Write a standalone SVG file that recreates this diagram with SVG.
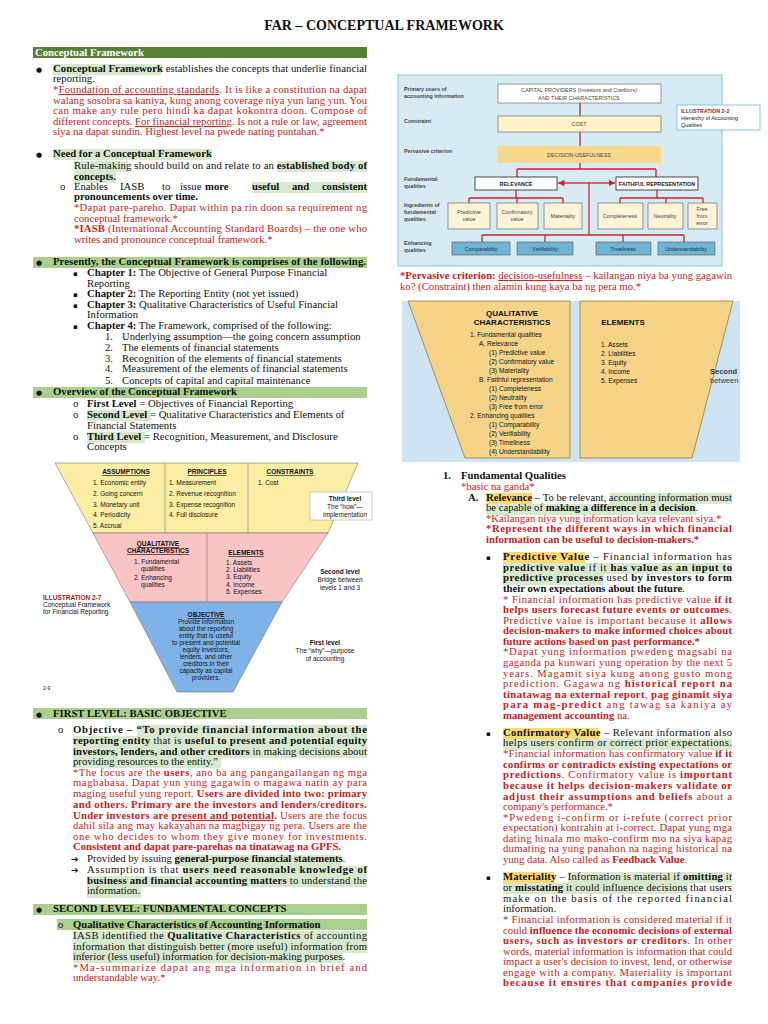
<svg xmlns="http://www.w3.org/2000/svg" width="768" height="1024" viewBox="0 0 768 1024">
<defs>
<style>
text{font-family:"Liberation Serif","Times New Roman",serif;font-size:10.7px;fill:#111}
.b{font-weight:bold}
.r{fill:#d01818}
.u{text-decoration:underline}
.s{font-family:"Liberation Sans",Arial,sans-serif;font-size:6.5px}
.h{font-family:"Liberation Sans",Arial,sans-serif;font-size:5.4px;fill:#444}
.hl{fill:#d6e9cd}
.yl{fill:#ffd970}
.bar{fill:#a9d08e}
.bul{font-family:"DejaVu Sans",sans-serif;font-size:7px}
.red{stroke:#d0202a;stroke-width:1.3;fill:none}
.box{stroke:#555;stroke-width:0.6}
</style>
<marker id="ar" viewBox="0 0 6 6" refX="6" refY="3" markerWidth="5" markerHeight="5" orient="auto-start-reverse"><path d="M0,0L6,3L0,6z" fill="#d0202a"/></marker>
</defs>
<rect width="768" height="1024" fill="#fff"/>
<text x="384" y="30" text-anchor="middle" class="b" style="font-size:14px">FAR – CONCEPTUAL FRAMEWORK</text>

<!-- LEFT COLUMN -->
<g id="left-top">
<rect x="33" y="47" width="334" height="11" fill="#538135"/>
<text x="35" y="56" class="b" style="fill:#fff">Conceptual Framework</text>
<rect class="hl" x="53" y="64" width="109" height="11"/>
<text x="36" y="72" class="bul">●</text>
<text x="53" y="72" textLength="314"><tspan class="b">Conceptual Framework</tspan> establishes the concepts that underlie financial</text>
<text x="53" y="82">reporting.</text>
<text x="53" y="93" class="r" textLength="314">*<tspan class="u">Foundation of accounting standards</tspan>. It is like a constitution na dapat</text>
<text x="53" y="104" class="r" textLength="314">walang sosobra sa kaniya, kung anong coverage niya yun lang yun. You</text>
<text x="53" y="114" class="r" textLength="314">can make any rule pero hindi ka dapat kokontra doon. Compose of</text>
<text x="53" y="125" class="r" textLength="314">different concepts. <tspan class="u">For financial reporting</tspan>. Is not a rule or law, agreement</text>
<text x="53" y="135" class="r">siya na dapat sundin. Highest level na pwede nating puntahan.*</text>

<rect class="hl" x="53" y="149" width="159" height="11"/>
<rect class="hl" x="74" y="161" width="54" height="11"/>
<rect class="hl" x="277" y="161" width="90" height="11"/>
<rect class="hl" x="74" y="172" width="42" height="11"/>
<rect class="hl" x="252" y="182" width="115" height="11"/>
<text x="36" y="157" class="bul">●</text>
<text x="53" y="157" class="b">Need for a Conceptual Framework</text>
<text x="74" y="169" textLength="293">Rule-making should build on and relate to an <tspan class="b">established body of</tspan></text>
<text x="74" y="180" class="b">concepts.</text>
<text x="60" y="190">o</text>
<text x="74" y="190">Enables</text><text x="120" y="190">IASB</text><text x="162" y="190">to</text><text x="180" y="190">issue</text>
<text x="205" y="190" class="b">more</text><text x="252" y="190" class="b">useful</text><text x="292" y="190" class="b">and</text><text x="367" y="190" class="b" text-anchor="end">consistent</text>
<text x="74" y="200" class="b">pronouncements over time.</text>
<text x="74" y="211" class="r" textLength="293">*Dapat pare-pareho. Dapat within pa rin doon sa requirement ng</text>
<text x="74" y="222" class="r">conceptual framework.*</text>
<text x="74" y="232" class="r" textLength="293"><tspan class="b">*IASB</tspan> (International Accounting Standard Boards) – the one who</text>
<text x="74" y="243" class="r">writes and pronounce conceptual framework.*</text>

<rect class="bar" x="33" y="257" width="334" height="11"/>
<text x="36" y="265" class="bul">●</text>
<text x="53" y="265" class="b" textLength="313">Presently, the Conceptual Framework is comprises of the following.</text>
<text x="73" y="276" class="bul">▪</text><text x="87" y="276"><tspan class="b">Chapter 1:</tspan> The Objective of General Purpose Financial</text>
<text x="87" y="287">Reporting</text>
<text x="73" y="297" class="bul">▪</text><text x="87" y="297"><tspan class="b">Chapter 2:</tspan> The Reporting Entity (not yet issued)</text>
<text x="73" y="308" class="bul">▪</text><text x="87" y="308"><tspan class="b">Chapter 3:</tspan> Qualitative Characteristics of Useful Financial</text>
<text x="87" y="318">Information</text>
<text x="73" y="329" class="bul">▪</text><text x="87" y="329"><tspan class="b">Chapter 4:</tspan> The Framework, comprised of the following:</text>
<text x="105" y="340">1.</text><text x="122" y="340">Underlying assumption—the going concern assumption</text>
<text x="105" y="351">2.</text><text x="122" y="351">The elements of financial statements</text>
<text x="105" y="362">3.</text><text x="122" y="362">Recognition of the elements of financial statements</text>
<text x="105" y="372">4.</text><text x="122" y="372">Measurement of the elements of financial statements</text>
<text x="105" y="384">5.</text><text x="122" y="384">Concepts of capital and capital maintenance</text>

<rect class="bar" x="33" y="387" width="334" height="11"/>
<text x="36" y="395" class="bul">●</text>
<text x="53" y="395" class="b">Overview of the Conceptual Framework</text>
<rect class="hl" x="87" y="410" width="64" height="11"/>
<rect class="hl" x="87" y="432" width="58" height="11"/>
<text x="73" y="407">o</text><text x="87" y="407"><tspan class="b">First Level</tspan> = Objectives of Financial Reporting</text>
<text x="73" y="418">o</text><text x="87" y="418"><tspan class="b">Second Level</tspan> = Qualitative Characteristics and Elements of</text>
<text x="87" y="429">Financial Statements</text>
<text x="73" y="440">o</text><text x="87" y="440"><tspan class="b">Third Level</tspan> = Recognition, Measurement, and Disclosure</text>
<text x="87" y="450">Concepts</text>
</g>

<!-- Funnel illustration 2-7 -->
<g id="funnel">
<polygon points="55,463 358,463 328,533 93,533" fill="#fbeea4" stroke="#777" stroke-width="0.6"/>
<line x1="165" y1="463" x2="165" y2="533" stroke="#777" stroke-width="0.6"/>
<line x1="248" y1="463" x2="248" y2="533" stroke="#777" stroke-width="0.6"/>
<polygon points="93,533 328,533 282,602 130,602" fill="#f8c4c4" stroke="#777" stroke-width="0.6"/>
<line x1="207" y1="533" x2="207" y2="602" stroke="#777" stroke-width="0.6"/>
<polygon points="130,602 282,602 233,692 177,692" fill="#7fb3e8" stroke="#777" stroke-width="0.6"/>
<text x="126" y="474" class="s b u" text-anchor="middle">ASSUMPTIONS</text>
<text x="207" y="474" class="s b u" text-anchor="middle">PRINCIPLES</text>
<text x="290" y="474" class="s b u" text-anchor="middle">CONSTRAINTS</text>
<text x="93" y="485" class="s">1. Economic entity</text>
<text x="93" y="496" class="s">2. Going concern</text>
<text x="93" y="507" class="s">3. Monetary unit</text>
<text x="93" y="517" class="s">4. Periodicity</text>
<text x="93" y="528" class="s">5. Accrual</text>
<text x="169" y="485" class="s">1. Measurement</text>
<text x="169" y="496" class="s">2. Revenue recognition</text>
<text x="169" y="507" class="s">3. Expense recognition</text>
<text x="169" y="517" class="s">4. Full disclosure</text>
<text x="258" y="485" class="s">1. Cost</text>
<rect x="310" y="492" width="62" height="28" fill="#fff" stroke="#999" stroke-width="0.5"/>
<text x="345" y="501" class="s b" text-anchor="middle">Third level</text>
<text x="345" y="509" class="s" text-anchor="middle">The “how”—</text>
<text x="345" y="517" class="s" text-anchor="middle">implementation</text>
<text x="158" y="546" class="s b u" text-anchor="middle">QUALITATIVE</text>
<text x="158" y="553" class="s b u" text-anchor="middle">CHARACTERISTICS</text>
<text x="134" y="564" class="s">1. Fundamental</text>
<text x="141" y="571" class="s">qualities</text>
<text x="134" y="580" class="s">2. Enhancing</text>
<text x="141" y="587" class="s">qualities</text>
<text x="246" y="555" class="s b u" text-anchor="middle">ELEMENTS</text>
<text x="226" y="565" class="s">1. Assets</text>
<text x="226" y="572" class="s">2. Liabilities</text>
<text x="226" y="579" class="s">3. Equity</text>
<text x="226" y="587" class="s">4. Income</text>
<text x="226" y="594" class="s">5. Expenses</text>
<text x="340" y="574" class="s b" text-anchor="middle">Second level</text>
<text x="340" y="582" class="s" text-anchor="middle">Bridge between</text>
<text x="340" y="590" class="s" text-anchor="middle">levels 1 and 3</text>
<text x="43" y="600" class="s b" style="fill:#a01c1c">ILLUSTRATION 2-7</text>
<text x="43" y="607" class="s">Conceptual Framework</text>
<text x="43" y="614" class="s">for Financial Reporting</text>
<text x="206" y="617" class="s b u" text-anchor="middle">OBJECTIVE</text>
<text x="206" y="624" class="s" text-anchor="middle">Provide information</text>
<text x="206" y="631" class="s" text-anchor="middle">about the reporting</text>
<text x="206" y="638" class="s" text-anchor="middle">entity that is useful</text>
<text x="206" y="645" class="s" text-anchor="middle">to present and potential</text>
<text x="206" y="652" class="s" text-anchor="middle">equity investors,</text>
<text x="206" y="659" class="s" text-anchor="middle">lenders, and other</text>
<text x="206" y="666" class="s" text-anchor="middle">creditors in their</text>
<text x="206" y="673" class="s" text-anchor="middle">capacity as capital</text>
<text x="206" y="680" class="s" text-anchor="middle">providers.</text>
<text x="325" y="645" class="s b" text-anchor="middle">First level</text>
<text x="325" y="653" class="s" text-anchor="middle">The “why”—purpose</text>
<text x="325" y="661" class="s" text-anchor="middle">of accounting</text>
<text x="43" y="690" class="s" style="font-size:5px">2-9</text>
</g>

<g id="left-bottom">
<rect class="bar" x="33" y="708" width="334" height="11"/>
<text x="36" y="717" class="bul">●</text>
<text x="53" y="717" class="b">FIRST LEVEL: BASIC OBJECTIVE</text>
<rect class="hl" x="137" y="725" width="230" height="11"/>
<rect class="hl" x="73" y="736" width="294" height="11"/>
<rect class="hl" x="73" y="747" width="294" height="11"/>
<rect class="hl" x="73" y="757" width="148" height="11"/>
<text x="58" y="733">o</text>
<text x="73" y="733" textLength="294"><tspan class="b">Objective – “To provide financial information about the</tspan></text>
<text x="73" y="744" textLength="294"><tspan class="b">reporting entity</tspan> that is <tspan class="b">useful to present and potential equity</tspan></text>
<text x="73" y="755" textLength="294"><tspan class="b">investors, lenders, and other creditors</tspan> in making decisions about</text>
<text x="73" y="765">providing resources to the entity.”</text>
<text x="73" y="776" class="r" textLength="294">*The focus are the <tspan class="b">users</tspan>, ano ba ang pangangailangan ng mga</text>
<text x="73" y="786" class="r" textLength="294">magbabasa. Dapat yun yung gagawin o magawa natin ay para</text>
<text x="73" y="797" class="r" textLength="294">maging useful yung report. <tspan class="b">Users are divided into two: primary</tspan></text>
<text x="73" y="808" class="r b" textLength="294">and others. Primary are the investors and lenders/creditors.</text>
<text x="73" y="819" class="r" textLength="294"><tspan class="b">Under investors are <tspan class="u">present and potential</tspan>.</tspan> Users are the focus</text>
<text x="73" y="829" class="r" textLength="294">dahil sila ang may kakayahan na magbigay ng pera. Users are the</text>
<text x="73" y="840" class="r" textLength="294">one who decides to whom they give money for investments.</text>
<text x="73" y="850" class="r b">Consistent and dapat pare-parehas na tinatawag na GPFS.</text>
<rect class="hl" x="175" y="855" width="166" height="11"/>
<rect class="hl" x="184" y="866" width="183" height="11"/>
<rect class="hl" x="87" y="876" width="280" height="11"/>
<rect class="hl" x="87" y="887" width="54" height="11"/>
<text x="71" y="862" class="bul" style="font-size:9px">➔</text>
<text x="87" y="862">Provided by issuing <tspan class="b">general-purpose financial statements</tspan>.</text>
<text x="71" y="873" class="bul" style="font-size:9px">➔</text>
<text x="87" y="873" textLength="280">Assumption is that <tspan class="b">users need reasonable knowledge of</tspan></text>
<text x="87" y="884" textLength="280"><tspan class="b">business and financial accounting matters</tspan> to understand the</text>
<text x="87" y="894">information.</text>

<rect class="bar" x="33" y="904" width="334" height="11"/>
<text x="36" y="912" class="bul">●</text>
<text x="53" y="912" class="b">SECOND LEVEL: FUNDAMENTAL CONCEPTS</text>
<rect class="bar" x="57" y="919" width="310" height="11"/>
<text x="58" y="928">o</text>
<text x="73" y="928" class="b">Qualitative Characteristics of Accounting Information</text>
<rect class="hl" x="73" y="931" width="294" height="11"/>
<rect class="hl" x="73" y="942" width="294" height="11"/>
<rect class="hl" x="73" y="952" width="270" height="11"/>
<text x="73" y="939" textLength="294">IASB identified the <tspan class="b">Qualitative Characteristics</tspan> of accounting</text>
<text x="73" y="950" textLength="294">information that distinguish better (more useful) information from</text>
<text x="73" y="960">inferior (less useful) information for decision-making purposes.</text>
<text x="73" y="971" class="r" textLength="294">*Ma-summarize dapat ang mga information in brief and</text>
<text x="73" y="981" class="r">understandable way.*</text>
</g>

<!-- RIGHT: Illustration 2-2 -->
<g id="hierarchy">
<rect x="398" y="75" width="324" height="191" fill="#d7ebf5" stroke="#6bbcd0" stroke-width="0.8"/>
<text x="404" y="91" class="h b">Primary users of</text>
<text x="404" y="98" class="h b">accounting information</text>
<text x="404" y="123" class="h b">Constraint</text>
<text x="404" y="153" class="h b">Pervasive criterion</text>
<text x="404" y="181" class="h b">Fundamental</text>
<text x="404" y="188" class="h b">qualities</text>
<text x="404" y="207" class="h b">Ingredients of</text>
<text x="404" y="214" class="h b">fundamental</text>
<text x="404" y="221" class="h b">qualities</text>
<text x="404" y="245" class="h b">Enhancing</text>
<text x="404" y="252" class="h b">qualities</text>
<g id="connectors">
<path class="red" d="M580,103V116M580,132V146M580,163V169M517,169H656M517,169V177M656,169V177"/>
<path class="red" d="M589,183V235M482,235H684M482,235V242M545,235V242M623,235V242M684,235V242"/>
<path class="red" d="M516,190V198M469,198H563M469,198V203M517,198V203M563,198V203"/>
<path class="red" d="M657,190V198M620,198H703M620,198V203M666,198V203M703,198V203"/>
<line class="red" x1="589" y1="183" x2="558" y2="183" marker-end="url(#ar)"/>
<line class="red" x1="589" y1="183" x2="615" y2="183" marker-end="url(#ar)"/>
</g>
<g id="n-capital"><rect x="498" y="84" width="163" height="19" fill="#fff" class="box"/>
<text x="579" y="92" class="h" text-anchor="middle">CAPITAL PROVIDERS (Investors and Creditors)</text>
<text x="579" y="100" class="h" text-anchor="middle">AND THEIR CHARACTERISTICS</text></g>
<g id="n-cost"><rect x="498" y="116" width="163" height="16" fill="#fdf1c9" class="box"/>
<text x="579" y="126" class="h" text-anchor="middle">COST</text></g>
<g id="n-du"><rect x="497" y="146" width="164" height="17" fill="#f8d98c" stroke="none"/>
<text x="579" y="156.5" class="h" text-anchor="middle">DECISION-USEFULNESS</text></g>
<g id="n-rel"><rect x="475" y="177" width="82" height="13" fill="#fff" stroke="#333" stroke-width="0.9"/>
<text x="516" y="186" class="h b" text-anchor="middle" style="fill:#222">RELEVANCE</text></g>
<g id="n-fr"><rect x="616" y="177" width="82" height="13" fill="#fff" stroke="#333" stroke-width="0.9"/>
<text x="657" y="186" class="h b" text-anchor="middle" style="fill:#222">FAITHFUL REPRESENTATION</text></g>
<g fill="#fdf3d6">
<rect x="448" y="203" width="42" height="26" class="box"/>
<rect x="497" y="203" width="41" height="26" class="box"/>
<rect x="544" y="203" width="38" height="26" class="box"/>
<rect x="598" y="203" width="45" height="26" class="box"/>
<rect x="648" y="203" width="35" height="26" class="box"/>
<rect x="688" y="203" width="29" height="26" class="box"/>
</g>
<text x="469" y="214" class="h" text-anchor="middle">Predictive</text>
<text x="469" y="221" class="h" text-anchor="middle">value</text>
<text x="517" y="214" class="h" text-anchor="middle">Confirmatory</text>
<text x="517" y="221" class="h" text-anchor="middle">value</text>
<text x="563" y="218" class="h" text-anchor="middle">Materiality</text>
<text x="620" y="218" class="h" text-anchor="middle">Completeness</text>
<text x="665" y="218" class="h" text-anchor="middle">Neutrality</text>
<text x="702" y="211" class="h" text-anchor="middle">Free</text>
<text x="702" y="218" class="h" text-anchor="middle">from</text>
<text x="702" y="225" class="h" text-anchor="middle">error</text>
<g fill="#6fb4d4">
<rect x="452" y="242" width="58" height="13" class="box"/>
<rect x="517" y="242" width="56" height="13" class="box"/>
<rect x="596" y="242" width="55" height="13" class="box"/>
<rect x="658" y="242" width="57" height="13" class="box"/>
</g>
<text x="481" y="250.5" class="h" text-anchor="middle" style="fill:#234">Comparability</text>
<text x="545" y="250.5" class="h" text-anchor="middle" style="fill:#234">Verifiability</text>
<text x="623" y="250.5" class="h" text-anchor="middle" style="fill:#234">Timeliness</text>
<text x="686" y="250.5" class="h" text-anchor="middle" style="fill:#234">Understandability</text>
<rect x="677" y="105" width="83" height="25" fill="#fff" stroke="#6bbcd0" stroke-width="0.8"/>
<text x="681" y="113" class="h b" style="fill:#a01c1c">ILLUSTRATION 2-2</text>
<text x="681" y="120" class="h" style="fill:#222">Hierarchy of Accounting</text>
<text x="681" y="127" class="h" style="fill:#222">Qualities</text>
</g>
<text x="400" y="279" class="r" textLength="332"><tspan class="b">*Pervasive criterion:</tspan> <tspan class="u">decision-usefulness</tspan> – kailangan niya ba yung gagawin</text>
<text x="400" y="290" class="r">ko? (Constraint) then alamin kung kaya ba ng pera mo.*</text>

<!-- Qualitative characteristics funnel -->
<g id="qc">
<rect x="402" y="301" width="338" height="161" fill="#cfe4f3"/>
<polygon points="408,301 570,301 570,458 465,458" fill="#f5d488" stroke="#8a6b2a" stroke-width="0.7"/>
<polygon points="580,301 733,301 692,458 580,458" fill="#f5d488" stroke="#8a6b2a" stroke-width="0.7"/>
<text x="512" y="316" class="s b" text-anchor="middle" style="font-size:8px">QUALITATIVE</text>
<text x="512" y="325" class="s b" text-anchor="middle" style="font-size:8px">CHARACTERISTICS</text>
<text x="470" y="337" class="s" style="font-size:6.6px">1. Fundamental qualities</text>
<text x="479" y="346" class="s" style="font-size:6.6px">A. Relevance</text>
<text x="489" y="355" class="s" style="font-size:6.6px">(1) Predictive value</text>
<text x="489" y="364" class="s" style="font-size:6.6px">(2) Confirmatory value</text>
<text x="489" y="373" class="s" style="font-size:6.6px">(3) Materiality</text>
<text x="479" y="382" class="s" style="font-size:6.6px">B. Faithful representation</text>
<text x="489" y="391" class="s" style="font-size:6.6px">(1) Completeness</text>
<text x="489" y="400" class="s" style="font-size:6.6px">(2) Neutrality</text>
<text x="489" y="409" class="s" style="font-size:6.6px">(3) Free from error</text>
<text x="470" y="418" class="s" style="font-size:6.6px">2. Enhancing qualities</text>
<text x="489" y="427" class="s" style="font-size:6.6px">(1) Comparability</text>
<text x="489" y="436" class="s" style="font-size:6.6px">(2) Verifiability</text>
<text x="489" y="445" class="s" style="font-size:6.6px">(3) Timeliness</text>
<text x="489" y="454" class="s" style="font-size:6.6px">(4) Understandability</text>
<text x="623" y="325" class="s b" text-anchor="middle" style="font-size:8px">ELEMENTS</text>
<text x="601" y="347" class="s" style="font-size:6.6px">1. Assets</text>
<text x="601" y="356" class="s" style="font-size:6.6px">2. Liabilities</text>
<text x="601" y="365" class="s" style="font-size:6.6px">3. Equity</text>
<text x="601" y="374" class="s" style="font-size:6.6px">4. Income</text>
<text x="601" y="383" class="s" style="font-size:6.6px">5. Expenses</text>
<svg x="700" y="360" width="40" height="30" overflow="hidden">
<text x="10" y="14" class="s b" style="font-size:7.5px;fill:#1d3c5a">Second</text>
<text x="10" y="23" class="s" style="font-size:7.5px;fill:#1d3c5a">between</text>
</svg>
</g>

<!-- RIGHT text -->
<g id="right-text">
<text x="443" y="479" class="b">1.</text><text x="461" y="479" class="b">Fundamental Qualities</text>
<text x="461" y="490" class="r">*basic na ganda*</text>
<rect class="yl" x="486" y="493" width="46" height="11"/>
<rect class="hl" x="610" y="493" width="122" height="11"/>
<rect class="hl" x="486" y="504" width="210" height="11"/>
<text x="468" y="501" class="b">A.</text>
<text x="486" y="501" textLength="246"><tspan class="b">Relevance</tspan> – To be relevant, accounting information must</text>
<text x="486" y="511">be capable of <tspan class="b">making a difference in a decision</tspan>.</text>
<text x="486" y="522" class="r">*Kailangan niya yung information kaya relevant siya.*</text>
<text x="486" y="532" class="r b" textLength="246">*Represent the different ways in which financial</text>
<text x="486" y="543" class="r b">information can be useful to decision-makers.*</text>

<rect class="yl" x="503" y="552" width="82" height="11"/>
<rect class="hl" x="503" y="563" width="229" height="11"/>
<rect class="hl" x="503" y="574" width="101" height="11"/>
<text x="486" y="560" class="bul">▪</text>
<text x="503" y="560" textLength="229"><tspan class="b">Predictive Value</tspan> – Financial information has</text>
<text x="503" y="571" textLength="229"><tspan class="b">predictive value</tspan> if it <tspan class="b">has value as an input to</tspan></text>
<text x="503" y="581" textLength="229" class="b">predictive processes <tspan style="font-weight:normal">used</tspan> by investors to form</text>
<text x="503" y="592" class="b">their own expectations about the future<tspan style="font-weight:normal">.</tspan></text>
<text x="503" y="603" class="r" textLength="229">* Financial information has predictive value <tspan class="b">if it</tspan></text>
<text x="503" y="613" class="r b" textLength="229">helps users forecast future events or outcomes<tspan style="font-weight:normal">.</tspan></text>
<text x="503" y="624" class="r" textLength="229">Predictive value is important because it <tspan class="b">allows</tspan></text>
<text x="503" y="634" class="r b" textLength="229">decision-makers to make informed choices about</text>
<text x="503" y="645" class="r b">future actions based on past performance.*</text>
<text x="503" y="655" class="r" textLength="229">*Dapat yung information pwedeng magsabi na</text>
<text x="503" y="666" class="r" textLength="229">gaganda pa kunwari yung operation by the next 5</text>
<text x="503" y="677" class="r" textLength="229">years. Magamit siya kung anong gusto mong</text>
<text x="503" y="687" class="r" textLength="229">prediction. Gagawa ng <tspan class="b">historical report na</tspan></text>
<text x="503" y="698" class="r b" textLength="229">tinatawag na external report<tspan style="font-weight:normal">,</tspan> pag ginamit siya</text>
<text x="503" y="708" class="r" textLength="229"><tspan class="b">para mag-predict</tspan> ang tawag sa kaniya ay</text>
<text x="503" y="719" class="r"><tspan class="b">management accounting</tspan> na.</text>

<rect class="yl" x="503" y="728" width="96" height="11"/>
<rect class="hl" x="503" y="739" width="229" height="11"/>
<text x="486" y="736" class="bul">▪</text>
<text x="503" y="736" textLength="229"><tspan class="b">Confirmatory Value</tspan> – Relevant information also</text>
<text x="503" y="746" textLength="229">helps users confirm or correct prior expectations.</text>
<text x="503" y="757" class="r" textLength="229">*Financial information has confirmatory value <tspan class="b">if it</tspan></text>
<text x="503" y="768" class="r b" textLength="229">confirms or contradicts existing expectations or</text>
<text x="503" y="778" class="r" textLength="229"><tspan class="b">predictions</tspan>. Confirmatory value is <tspan class="b">important</tspan></text>
<text x="503" y="789" class="r b" textLength="229">because it helps decision-makers validate or</text>
<text x="503" y="800" class="r" textLength="229"><tspan class="b">adjust their assumptions and beliefs</tspan> about a</text>
<text x="503" y="810" class="r">company's performance.*</text>
<text x="503" y="821" class="r" textLength="229">*Pwedeng i-confirm or i-refute (correct prior</text>
<text x="503" y="831" class="r" textLength="229">expectation) kontrahin at i-correct. Dapat yung mga</text>
<text x="503" y="842" class="r" textLength="229">dating hinala mo mako-confirm mo na siya kapag</text>
<text x="503" y="852" class="r" textLength="229">dumating na yung panahon na naging historical na</text>
<text x="503" y="863" class="r">yung data. Also called as <tspan class="b">Feedback Value</tspan>.</text>

<rect class="yl" x="503" y="872" width="51" height="11"/>
<rect class="hl" x="568" y="872" width="164" height="11"/>
<rect class="hl" x="503" y="883" width="185" height="11"/>
<text x="486" y="880" class="bul">▪</text>
<text x="503" y="880" textLength="229"><tspan class="b">Materiality</tspan> – Information is material if <tspan class="b">omitting</tspan> it</text>
<text x="503" y="891" textLength="229">or <tspan class="b">misstating</tspan> it could influence decisions that users</text>
<text x="503" y="902" textLength="229">make on the basis of the reported financial</text>
<text x="503" y="912">information.</text>
<text x="503" y="923" class="r" textLength="229">* Financial information is considered material if it</text>
<text x="503" y="934" class="r" textLength="229">could <tspan class="b">influence the economic decisions of external</tspan></text>
<text x="503" y="944" class="r" textLength="229"><tspan class="b">users, such as investors or creditors</tspan>. In other</text>
<text x="503" y="955" class="r" textLength="229">words, material information is information that could</text>
<text x="503" y="965" class="r" textLength="229">impact a user's decision to invest, lend, or otherwise</text>
<text x="503" y="976" class="r" textLength="229">engage with a company. Materiality is important</text>
<text x="503" y="986" class="r b" textLength="229">because it ensures that companies provide</text>
</g>
</svg>
